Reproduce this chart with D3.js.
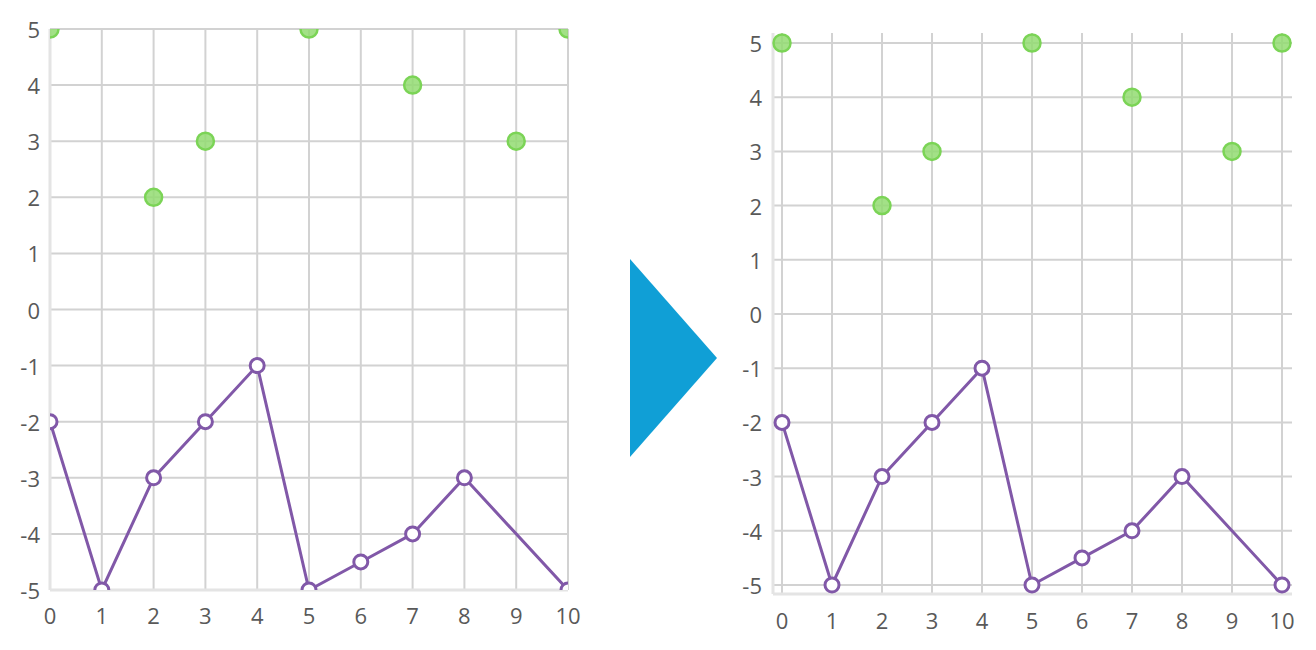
<!DOCTYPE html>
<html>
<head>
<meta charset="utf-8">
<script src="https://cdn.jsdelivr.net/npm/d3@7"></script>
<style>
  html, body { margin: 0; padding: 0; background: #fff; }
  svg { display: block; }
  text { font-family: "Open Sans", "Noto Sans", sans-serif; }
</style>
</head>
<body>
<svg id="chart" width="1316" height="650"></svg>
<script>
// ---- data ----
const xTicks = [0, 1, 2, 3, 4, 5, 6, 7, 8, 9, 10];
const yTicks = [-5, -4, -3, -2, -1, 0, 1, 2, 3, 4, 5];
const greenX = [0, 2, 3, 5, 7, 9, 10];
const greenY = [5, 2, 3, 5, 4, 3, 5];
const purpleX = [0, 1, 2, 3, 4, 5, 6, 7, 8, 10];
const purpleY = [-2, -5, -3, -2, -1, -5, -4.5, -4, -3, -5];

const svg = d3.select("#chart");
const GREEN_STROKE = "#7bd456";
const GREEN_FILL = "#93dc72";
const PURPLE = "#8158a8";
const GRID = "#d2d2d2";
const AXIS = "#e4e4e4";
const TEXT = "#595959";

function drawChart(o) {
  const x = d3.scaleLinear().domain([0, 10]).range(o.xRange);
  const y = d3.scaleLinear().domain([-5, 5]).range(o.yRange);
  const g = svg.append("g");
  const clipId = "clip" + o.id;
  g.append("clipPath").attr("id", clipId).append("rect")
    .attr("x", o.frame[0]).attr("y", o.frame[1])
    .attr("width", o.frame[2] - o.frame[0]).attr("height", o.frame[3] - o.frame[1]);

  // gridlines
  g.append("g").selectAll("line").data(xTicks).join("line")
    .attr("x1", d => x(d)).attr("x2", d => x(d))
    .attr("y1", o.frame[1]).attr("y2", o.frame[3])
    .attr("stroke", GRID).attr("stroke-width", 2);
  g.append("g").selectAll("line").data(yTicks).join("line")
    .attr("x1", o.frame[0]).attr("x2", o.frame[2])
    .attr("y1", d => y(d)).attr("y2", d => y(d))
    .attr("stroke", GRID).attr("stroke-width", 2);

  // axis lines
  g.append("line").attr("x1", o.frame[0]).attr("x2", o.frame[2])
    .attr("y1", o.frame[3]).attr("y2", o.frame[3])
    .attr("stroke", AXIS).attr("stroke-width", 3);
  g.append("line").attr("x1", o.frame[0]).attr("x2", o.frame[0])
    .attr("y1", o.frame[1]).attr("y2", o.frame[3])
    .attr("stroke", AXIS).attr("stroke-width", 3);

  // tick labels
  g.append("g").selectAll("text").data(yTicks).join("text")
    .attr("x", o.yLabelX).attr("y", d => y(d))
    .attr("text-anchor", "end").attr("dominant-baseline", "central")
    .attr("font-size", 22).attr("fill", TEXT)
    .text(d => d);
  g.append("g").selectAll("text").data(xTicks).join("text")
    .attr("x", d => x(d)).attr("y", o.xLabelY)
    .attr("text-anchor", "middle").attr("dominant-baseline", "central")
    .attr("font-size", 22).attr("fill", TEXT)
    .text(d => d);

  const plot = g.append("g");
  if (o.clip) plot.attr("clip-path", `url(#${clipId})`);

  // purple line
  const pts = purpleX.map((v, i) => [v, purpleY[i]]);
  plot.append("path").datum(pts)
    .attr("d", d3.line().x(d => x(d[0])).y(d => y(d[1])))
    .attr("fill", "none").attr("stroke", PURPLE).attr("stroke-width", 3)
    .attr("stroke-linejoin", "round");
  plot.append("g").selectAll("circle").data(pts).join("circle")
    .attr("cx", d => x(d[0])).attr("cy", d => y(d[1])).attr("r", 7)
    .attr("fill", "#fff").attr("stroke", PURPLE).attr("stroke-width", 3);

  // green scatter
  const gpts = greenX.map((v, i) => [v, greenY[i]]);
  plot.append("g").selectAll("circle").data(gpts).join("circle")
    .attr("cx", d => x(d[0])).attr("cy", d => y(d[1])).attr("r", 8.5)
    .attr("fill", GREEN_FILL).attr("fill-opacity", 0.85)
    .attr("stroke", GREEN_STROKE).attr("stroke-width", 2.5);
}

drawChart({ id: "L", xRange: [50, 568], yRange: [590, 29],
  frame: [50, 29, 568, 590], clip: true, yLabelX: 40, xLabelY: 615 });
drawChart({ id: "R", xRange: [782, 1282], yRange: [585, 43],
  frame: [773, 33, 1292, 594], clip: false, yLabelX: 762, xLabelY: 620 });

// arrow triangle
svg.append("path")
  .attr("d", d3.line()([[630, 259], [717, 358], [630, 457]]) + "Z")
  .attr("fill", "#109fd6");
</script>
</body>
</html>
